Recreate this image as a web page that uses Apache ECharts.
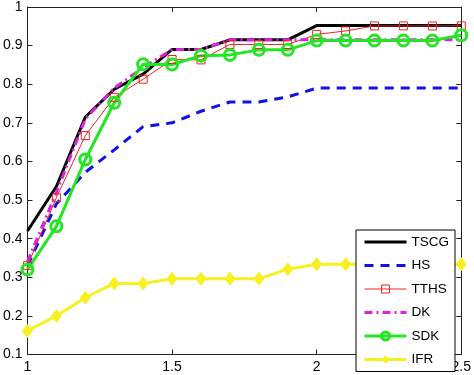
<!DOCTYPE html>
<html><head><meta charset="utf-8">
<script src="https://cdn.jsdelivr.net/npm/echarts@6/dist/echarts.min.js"></script>
<style>html,body{margin:0;padding:0;background:#fff}#c{width:474px;height:375px}</style>
</head><body><div id="c"></div>
<script>
const xValues = [1, 1.1, 1.2, 1.3, 1.4, 1.5, 1.6, 1.7, 1.8, 1.9, 2.0, 2.1, 2.2, 2.3, 2.4, 2.5];
const TSCG = [0.42, 0.535, 0.715, 0.787, 0.826, 0.89, 0.89, 0.915, 0.915, 0.915, 0.952, 0.952, 0.952, 0.952, 0.952, 0.952];
const HS   = [0.33, 0.49, 0.572, 0.63, 0.69, 0.70, 0.73, 0.754, 0.754, 0.767, 0.79, 0.79, 0.79, 0.79, 0.79, 0.79];
const TTHS = [0.33, 0.506, 0.667, 0.766, 0.813, 0.864, 0.863, 0.903, 0.903, 0.903, 0.929, 0.938, 0.951, 0.951, 0.951, 0.951];
const DK   = [0.34, 0.52, 0.71, 0.79, 0.843, 0.89, 0.89, 0.915, 0.915, 0.915, 0.915, 0.915, 0.915, 0.915, 0.915, 0.915];
const SDK  = [0.32, 0.432, 0.605, 0.752, 0.852, 0.851, 0.874, 0.876, 0.889, 0.889, 0.913, 0.913, 0.913, 0.913, 0.913, 0.927];
const IFR  = [0.161, 0.20, 0.247, 0.284, 0.284, 0.296, 0.296, 0.296, 0.296, 0.321, 0.334, 0.334, 0.334, 0.334, 0.334, 0.334];
const yTicks = [0.1, 0.2, 0.3, 0.4, 0.5, 0.6, 0.7, 0.8, 0.9, 1];
const seriesNames = ['TSCG', 'HS', 'TTHS', 'DK', 'SDK', 'IFR'];

const pair = arr => xValues.map((x, i) => [x, arr[i]]);
const font = 'Liberation Sans, Arial, sans-serif';
const chart = echarts.init(document.getElementById('c'), null, {renderer: 'canvas'});
const axisBase = {
  axisLine: {show: true, lineStyle: {color: '#222', width: 1}},
  axisTick: {show: true, inside: true, length: 5, lineStyle: {color: '#222'}},
  splitLine: {show: false}
};
const clear = 'rgba(0,0,0,0)';
chart.setOption({
  animation: false,
  backgroundColor: '#fff',
  grid: {left: 22.5, right: 11, top: 7, bottom: 20.5, show: false},
  xAxis: [
    Object.assign({type: 'value', min: 1, max: 2.5, interval: 0.5, position: 'bottom',
      axisLabel: {color: '#000', fontSize: 14, fontFamily: font, margin: 6}}, axisBase),
    Object.assign({type: 'value', min: 1, max: 2.5, interval: 0.5, position: 'top',
      axisLabel: {show: false}}, axisBase)
  ],
  yAxis: [
    Object.assign({type: 'value', min: 0.1, max: 1, interval: 0.1, position: 'left',
      axisLabel: {color: '#000', fontSize: 14, fontFamily: font, margin: 5,
        formatter: v => { const t = yTicks.find(k => Math.abs(k - v) < 1e-6); return t === undefined ? '' : String(t); }}}, axisBase),
    Object.assign({type: 'value', min: 0.1, max: 1, interval: 0.1, position: 'right',
      axisLabel: {show: false}}, axisBase)
  ],
  legend: {
    orient: 'vertical', left: 356, top: 230,
    data: seriesNames,
    backgroundColor: '#fff', borderColor: '#000', borderWidth: 1,
    padding: [5, 6, 5, 7], itemGap: 9.5, itemWidth: 42, itemHeight: 10,
    lineStyle: {width: 'inherit'},
    itemStyle: {borderWidth: 'inherit'},
    textStyle: {color: '#000', fontSize: 13.5, fontFamily: font}
  },
  series: [
    {name: 'TSCG', type: 'line', data: pair(TSCG), showSymbol: false, symbol: 'none',
      lineStyle: {color: '#000', width: 3}, itemStyle: {color: clear}},
    {name: 'HS', type: 'line', data: pair(HS), symbol: 'none',
      lineStyle: {color: '#1010e8', width: 3, type: [9, 7]}, itemStyle: {color: clear}},
    {name: 'TTHS', type: 'line', data: pair(TTHS), symbol: 'rect', symbolSize: 8,
      lineStyle: {color: '#ee2222', width: 1}, itemStyle: {color: clear, borderColor: '#ee2222', borderWidth: 1}},
    {name: 'DK', type: 'line', data: pair(DK), symbol: 'none',
      lineStyle: {color: '#e020e0', width: 3, type: [8, 4, 2, 4]}, itemStyle: {color: clear}},
    {name: 'SDK', type: 'line', data: pair(SDK), symbol: 'circle', symbolSize: 11,
      lineStyle: {color: '#22e622', width: 3}, itemStyle: {color: clear, borderColor: '#22e622', borderWidth: 3}},
    {name: 'IFR', type: 'line', data: pair(IFR), symbol: 'diamond', symbolSize: [11, 14],
      lineStyle: {color: '#f6f020', width: 3}, itemStyle: {color: '#f6f020'}}
  ]
});
</script></body></html>
